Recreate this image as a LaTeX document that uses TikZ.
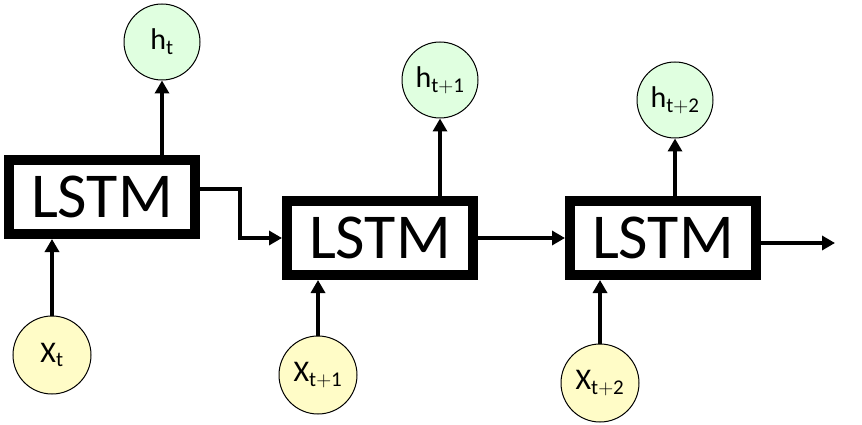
\documentclass[tikz,border=0pt]{standalone}
\usepackage{fontspec}
\setmainfont{Carlito}
\usetikzlibrary{arrows.meta}
\begin{document}
\begin{tikzpicture}[x=1pt,y=-1pt,
 box/.style={draw=black,line width=10pt,fill=white,minimum width=186pt,minimum height=74pt,inner sep=0pt,font=\fontsize{64}{64}\selectfont},
 hc/.style={circle,draw=black,line width=1pt,fill=green!12!white,minimum size=76pt,inner sep=0pt,font=\fontsize{30}{30}\selectfont},
 xc/.style={circle,draw=black,line width=1pt,fill=yellow!22!white,minimum size=78pt,inner sep=0pt,font=\fontsize{30}{30}\selectfont},
 ar/.style={line width=4.5pt,-{Triangle[length=13pt,width=14pt]}}]
\useasboundingbox (0,0) rectangle (862,425);
\node[box] (b1) at (102,197) {LSTM};
\node[box] (b2) at (380,238) {LSTM};
\node[box] (b3) at (663,238) {LSTM};
\node[hc] (h1) at (162,42) {h$_{\mathrm{t}}$};
\node[hc] (h2) at (440,80) {h$_{\mathrm{t+1}}$};
\node[hc] (h3) at (675,100) {h$_{\mathrm{t+2}}$};
\node[xc] (x1) at (52,355) {X$_{\mathrm{t}}$};
\node[xc] (x2) at (318,375) {X$_{\mathrm{t+1}}$};
\node[xc] (x3) at (600,383) {X$_{\mathrm{t+2}}$};
\coordinate (e) at (835,243);
\draw[ar] (x1.north) -- (x1.north |- b1.south);
\draw[ar] (x2.north) -- (x2.north |- b2.south);
\draw[ar] (x3.north) -- (x3.north |- b3.south);
\draw[ar] (h1.south |- b1.north) -- (h1.south);
\draw[ar] (h2.south |- b2.north) -- (h2.south);
\draw[ar] (h3.south |- b3.north) -- (h3.south);
\draw[ar] ([yshift=8pt]b1.east) -- ++(40,0) |- (b2.west);
\draw[ar] (b2.east) -- (b3.west);
\draw[ar] (b3.east |- e) -- (e);
\end{tikzpicture}
\end{document}
